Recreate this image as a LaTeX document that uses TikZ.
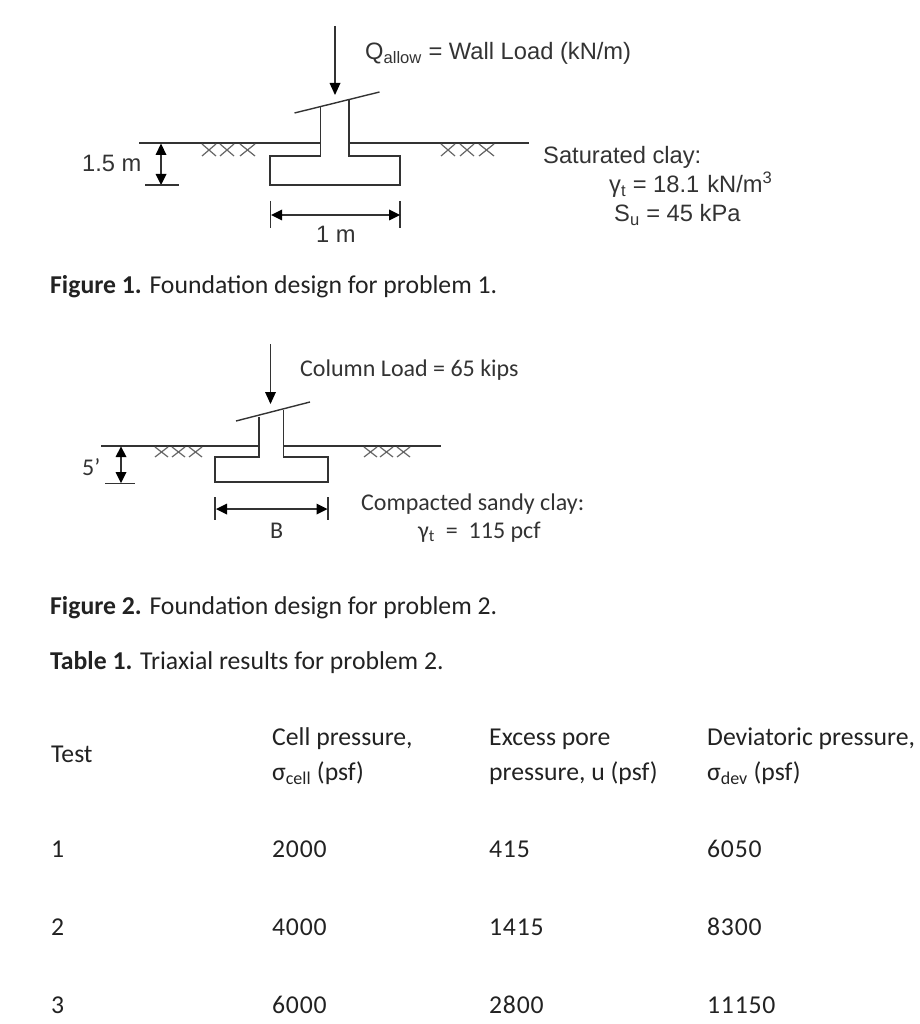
\documentclass[tikz,border=0pt]{standalone}
\usepackage{fontspec}
\setmainfont{Carlito}
\newfontfamily\arialfont{Liberation Sans}
\newfontfamily\numfont[LetterSpace=3]{Carlito}
\definecolor{inkgray}{HTML}{222222}
\definecolor{figgray}{HTML}{333333}
\definecolor{markgray}{HTML}{666666}
\tikzset{
  every node/.style={inner sep=0pt, text=inkgray},
  bodytext/.style={anchor=base west, font=\fontsize{25.7}{30}\selectfont},
  numtext/.style={anchor=base west, font=\numfont\fontsize{25.7}{30}\selectfont},
  figone/.style={anchor=base west, text=figgray, font=\arialfont\fontsize{23.7}{28}\selectfont},
  figtwo/.style={anchor=base west, text=figgray, font=\fontsize{24}{28}\selectfont},
  thinline/.style={draw=figgray, line width=1.4pt},
  markline/.style={draw=markgray, line width=1.2pt}
}
\begin{document}
\begin{tikzpicture}[x=1pt,y=-1pt]
        \useasboundingbox (0,0) rectangle (919,1024);
        % figure 1
        \draw [thinline] (335,26) -- (335,85);
        \fill [black] (335,95) -- (329.5,83) -- (340.5,83);
        \draw [thinline] (294.5,113) -- (379.5,92);
        \draw [thinline] (139,143) -- (320.5,143);
        \draw [thinline] (349,143) -- (529,143);
        \draw [thinline] (320.5,106.5) -- (320.5,156) -- (270,156) -- (270,185) -- (400,185) -- (400,156) -- (349,156) -- (349,99.5);
        \draw [thinline] (161,150) -- (161,178);
        \fill [black] (161,143.5) -- (155.5,155) -- (166.5,155);
        \fill [black] (161,185) -- (155.5,174) -- (166.5,174);
        \draw [thinline] (145,185) -- (179,185);
        \draw [thinline] (270.5,201) -- (270.5,228);
        \draw [thinline] (400,201) -- (400,228);
        \draw [thinline] (278,215) -- (393,215);
        \fill [black] (271,215) -- (282,209.5) -- (282,220.5);
        \fill [black] (400,215) -- (389,209.5) -- (389,220.5);
        \draw [markline] (202,144) -- (216,156) (202,156) -- (216,144) (220,144) -- (234,156) (220,156) -- (234,144) (240,144) -- (255,156) (240,156) -- (255,144);
        \draw [markline] (441,144) -- (455,156) (441,156) -- (455,144) (460,144) -- (474,156) (460,156) -- (474,144) (479,144) -- (494,156) (479,156) -- (494,144);
        \node [figone] (qallow) at (365,60) {Q\textsubscript{allow} = Wall Load (kN/m)};
        \node [figone] (depthone) at (82,172) {1.5 m};
        \node [figone] (widthone) at (316,243) {1 m};
        \node [figone] (clay) at (543,164) {Saturated clay:};
        \node [figone] (gammaone) at (609,193) {γ\textsubscript{t} = 18.1\hspace{1.5pt} kN/m\textsuperscript{3}};
        \node [figone] (su) at (614,222) {S\textsubscript{u} = 45 kPa};
        \node [bodytext] (capone) at (50,293.5) {\textbf{Figure 1.} Foundation design for problem 1.};
        % figure 2
        \draw [thinline] (270.5,344) -- (270.5,395);
        \fill [black] (270.5,404) -- (265,392) -- (276,392);
        \draw [thinline] (236,421) -- (310,402);
        \draw [thinline] (101,446) -- (259,446);
        \draw [thinline] (283.5,446) -- (441,446);
        \draw [thinline] (259,417) -- (259,457) -- (215,457) -- (215,482) -- (328,482) -- (328,457) -- (283.5,457) -- (283.5,410);
        \draw [thinline] (121,452) -- (121,477);
        \fill [black] (121,446.5) -- (115.5,457) -- (126.5,457);
        \fill [black] (121,483) -- (115.5,472) -- (126.5,472);
        \draw [thinline] (105,483.5) -- (135,483.5);
        \draw [thinline] (215,497) -- (215,520);
        \draw [thinline] (328,497) -- (328,520);
        \draw [thinline] (222,509) -- (321,509);
        \fill [black] (216,509) -- (227,503.5) -- (227,514.5);
        \fill [black] (327.5,509) -- (316.5,503.5) -- (316.5,514.5);
        \draw [markline] (155,447) -- (168,457) (155,457) -- (168,447) (172,447) -- (185,457) (172,457) -- (185,447) (189,447) -- (202,457) (189,457) -- (202,447);
        \draw [markline] (364,447) -- (377,457) (364,457) -- (377,447) (380,447) -- (393,457) (380,457) -- (393,447) (397,447) -- (410,457) (397,457) -- (410,447);
        \node [figtwo] (column) at (300,376) {Column Load = 65 kips};
        \node [figtwo] (depthtwo) at (82,475) {5’};
        \node [figtwo] (widthtwo) at (270,538) {B};
        \node [figtwo] (sandy) at (361,510) {Compacted sandy clay:};
        \node [figtwo] (gammatwo) at (418,538) {γ\textsubscript{t}\ \ =\ \ 115\ pcf};
        \node [bodytext] (captwo) at (50,614.5) {\textbf{Figure 2.} Foundation design for problem 2.};
        % table
        \node [bodytext] (tabcap) at (50,669.5) {\textbf{Table 1.} Triaxial results for problem 2.};
        \node [bodytext] (headtest) at (51,762.5) {Test};
        \node [bodytext] (headcell) at (272,745.5) {Cell pressure,};
        \node [bodytext] (headcelltwo) at (272,780.5) {σ\textsubscript{cell} (psf)};
        \node [bodytext] (headpore) at (489,745.5) {Excess pore};
        \node [bodytext] (headporetwo) at (489,780.5) {pressure, u (psf)};
        \node [bodytext] (headdev) at (707,745.5) {Deviatoric pressure,};
        \node [bodytext] (headdevtwo) at (707,780.5) {σ\textsubscript{dev} (psf)};
        \node [numtext] (testa) at (51,857.5) {1};
        \node [numtext] (cella) at (272,857.5) {2000};
        \node [numtext] (porea) at (489,857.5) {415};
        \node [numtext] (deva) at (707,857.5) {6050};
        \node [numtext] (testb) at (51,935.5) {2};
        \node [numtext] (cellb) at (272,935.5) {4000};
        \node [numtext] (poreb) at (489,935.5) {1415};
        \node [numtext] (devb) at (707,935.5) {8300};
        \node [numtext] (testc) at (51,1013.5) {3};
        \node [numtext] (cellc) at (272,1013.5) {6000};
        \node [numtext] (porec) at (489,1013.5) {2800};
        \node [numtext] (devc) at (707,1013.5) {11150};
\end{tikzpicture}
\end{document}
